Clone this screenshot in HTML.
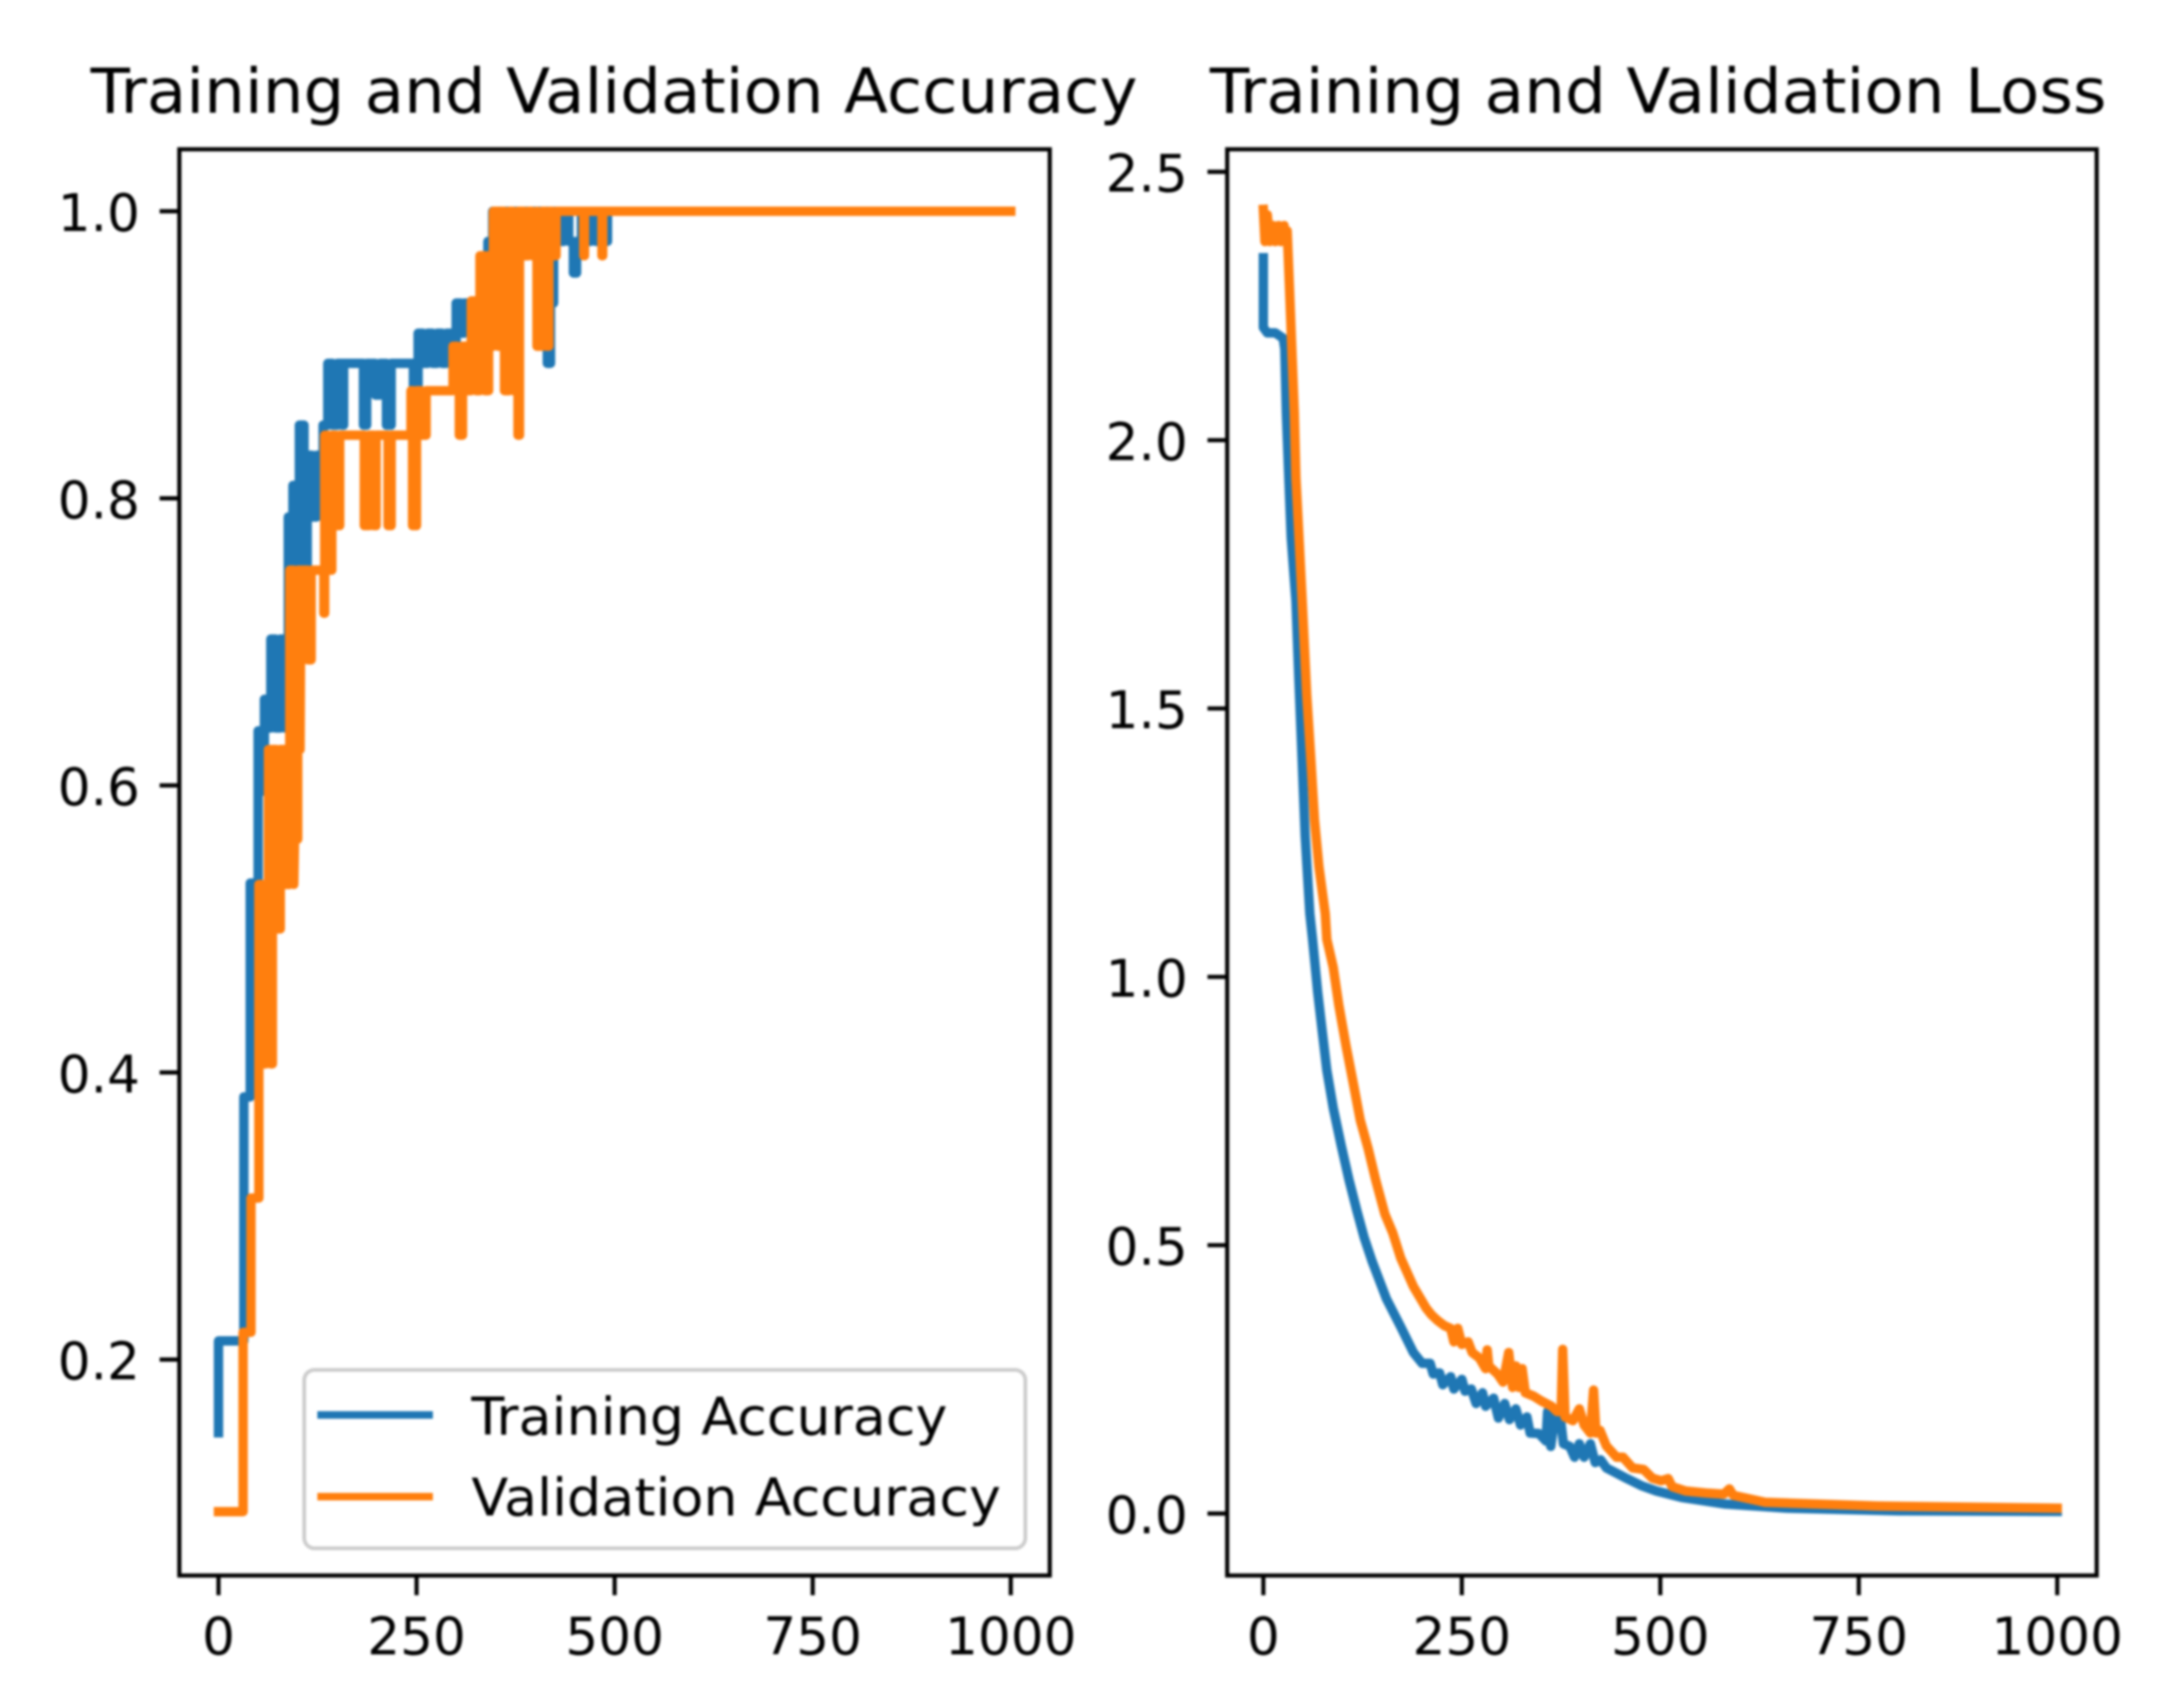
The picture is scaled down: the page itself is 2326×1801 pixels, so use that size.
<!DOCTYPE html>
<html lang="en">
<head>
<meta charset="utf-8">
<title>Training and Validation Accuracy and Loss</title>
<style>
html,body{margin:0;padding:0;background:#fff;}
body{width:2326px;height:1801px;overflow:hidden;}
svg{display:block;filter:blur(1.2px);}
text{font-family:"DejaVu Sans","Liberation Sans",sans-serif;fill:#000;}
</style>
</head>
<body>
<svg id="chart" xmlns="http://www.w3.org/2000/svg" width="2326" height="1801" viewBox="0 0 2326 1801">
  <text x="654" y="120" font-size="66" text-anchor="middle" textLength="1115" lengthAdjust="spacingAndGlyphs">Training and Validation Accuracy</text>
  <text x="1766" y="120" font-size="66" text-anchor="middle" textLength="955" lengthAdjust="spacingAndGlyphs">Training and Validation Loss</text>
  <g id="acc-marks"></g>
  <g id="loss-marks"></g>
  <g id="acc-axes"></g>
  <g id="loss-axes"></g>
  <g>
    <rect x="324" y="1459" width="768" height="190" rx="11" ry="11" fill="#fff" fill-opacity="0.8" stroke="#ccc" stroke-width="4"/>
    <line x1="338" y1="1507" x2="461" y2="1507" stroke="#1f77b4" stroke-width="8"/>
    <text x="502" y="1528" font-size="55" textLength="507" lengthAdjust="spacingAndGlyphs">Training Accuracy</text>
    <line x1="338" y1="1594" x2="461" y2="1594" stroke="#ff7f0e" stroke-width="8"/>
    <text x="502" y="1614" font-size="55" textLength="564" lengthAdjust="spacingAndGlyphs">Validation Accuracy</text>
  </g>
</svg>
<script>
const xTickValues = [0, 250, 500, 750, 1000];
const xTickLabels = ["0", "250", "500", "750", "1000"];
const accTickValues = [0.2, 0.4, 0.6, 0.8, 1.0];
const accTickLabels = ["0.2", "0.4", "0.6", "0.8", "1.0"];
const lossTickValues = [0, 0.5, 1, 1.5, 2, 2.5];
const lossTickLabels = ["0.0", "0.5", "1.0", "1.5", "2.0", "2.5"];

const trainAccEpochs = [
  0,0,30,32,32,40,40,46,50,50,
  54,54,58,58,62,62,66,66,72,72,
  78,78,84,84,88,88,92,92,94,94,
  98,98,102,102,108,108,112,112,118,118,
  124,124,128,128,132,132,138,138,144,144,
  150,150,156,156,158,158,183,183,187,187,
  198,198,204,204,212,212,218,218,246,246,
  252,252,258,258,264,264,270,270,276,276,
  282,282,288,288,294,294,300,300,306,306,
  310,310,340,340,346,346,415,415,419,419,
  423,423,430,430,436,436,442,442,448,448,
  452,452,458,458,464,464,470,470,476,476,
  482,482,488,488,491,491,1000
];
const trainAcc = [
  .149,.213,.213,.213,.383,.383,.532,.532,.532,.638,
  .638,.596,.596,.66,.66,.64,.64,.702,.702,.64,
  .64,.702,.702,.64,.64,.787,.787,.64,.64,.809,
  .809,.70,.70,.851,.851,.75,.75,.83,.83,.787,
  .787,.83,.83,.79,.79,.851,.851,.894,.894,.851,
  .851,.894,.894,.851,.851,.894,.894,.851,.851,.894,
  .894,.872,.872,.894,.894,.851,.851,.894,.894,.872,
  .872,.915,.915,.894,.894,.915,.915,.894,.894,.915,
  .915,.894,.894,.915,.915,.894,.894,.936,.936,.915,
  .915,.936,.936,.979,.979,1,1,.894,.894,.936,
  .936,1,1,.979,.979,1,1,.979,.979,.957,
  .957,.979,.979,1,1,.979,.979,1,1,.979,
  .979,1,1,.979,.979,1,1
];

const valAccEpochs = [
  0,31,31,41,41,51,51,55,55,60,
  60,63,63,66,66,68,68,73,73,78,
  78,84,84,90,90,95,95,96,100,100,
  103,103,104,113,113,117,117,133,133,134,
  134,138,138,143,143,148,148,153,153,184,
  184,190,190,196,196,199,199,214,214,218,
  218,243,243,245,245,250,250,256,256,262,
  262,264,296,296,302,302,304,304,308,308,
  314,314,319,319,325,325,330,330,336,336,
  341,341,347,347,353,353,356,356,361,361,
  367,367,372,372,378,378,380,380,386,386,
  391,391,396,396,402,402,408,408,413,413,
  417,417,422,422,426,426,461,461,462,462,
  484,484,485,485,1000
];
const valAcc = [
  .094,.094,.219,.219,.3125,.3125,.531,.531,.406,.406,
  .531,.531,.625,.625,.406,.406,.625,.625,.5,.5,
  .625,.625,.531,.531,.75,.75,.531,.5625,.5625,.75,
  .75,.625,.75,.75,.6875,.6875,.75,.75,.72,.72,
  .844,.844,.75,.75,.844,.844,.781,.781,.844,.844,
  .781,.781,.844,.844,.781,.781,.844,.844,.781,.781,
  .844,.844,.875,.875,.781,.781,.875,.875,.844,.844,
  .875,.875,.875,.906,.906,.875,.875,.844,.844,.906,
  .906,.875,.875,.9375,.9375,.875,.875,.969,.969,.875,
  .875,.969,.906,1,1,.906,.906,1,1,.875,
  .875,1,1,.875,1,.844,.844,1,1,.969,
  .969,1,1,.969,1,.906,.906,1,1,.906,
  .906,1,1,.969,.969,1,1,.969,.969,1,
  1,.969,.969,1,1
];

const trainLossEpochs = [
  0,0,5,15,25,27,29,32,35,41,
  44.7,48.7,52.6,58.5,62,68.5,74,80,88,98,
  108,118,127,137,155,173,189,200,210,214,
  222,226,236,240,250,254,262,268,276,280,
  290,296,304,310,318,324,332,336,347,356,
  358,362,368,374,378,386,392,398,404,412,
  418,425,432,445,458,476,495,527,580,659,
  800,1000
];
const trainLoss = [
  2.34,2.21,2.20,2.20,2.19,2.17,2.05,1.93,1.82,1.70,
  1.555,1.408,1.263,1.118,1.07,.971,.90,.826,.756,.686,
  .621,.563,.514,.47,.40,.348,.30,.28,.28,.26,
  .262,.24,.255,.232,.25,.228,.232,.205,.225,.20,
  .215,.178,.205,.175,.195,.165,.18,.15,.149,.135,
  .19,.125,.19,.18,.13,.125,.105,.13,.105,.13,
  .095,.10,.085,.075,.065,.052,.042,.03,.018,.01,
  .005,.004
];

const valLossEpochs = [
  0,2,5,8,12,15,19,22,26,29,
  30,33,36,39,41,45,49,54.6,59.7,64.5,
  70,78,80,88,95,104,114,122,132,141.6,
  153,163,173,189,205,212,220,228,236,240,
  245,250,258,263,272,280,282,284,295,302,
  309,314,318,322,326,330,340,350,363,370,
  375,377,380,390,398,404,412,416,419,424,
  432,445,453,465,479,490,501,510,515,532,
  560,580,587,592,632,774,1000
];
const valLoss = [
  2.43,2.37,2.42,2.37,2.40,2.37,2.40,2.37,2.40,2.37,
  2.39,2.28,2.167,2.05,1.93,1.817,1.70,1.525,1.408,1.292,
  1.205,1.118,1.07,1.018,.948,.873,.796,.733,.68,.621,
  .558,.523,.476,.423,.383,.37,.359,.35,.345,.32,
  .345,.315,.32,.30,.29,.27,.305,.275,.26,.245,
  .30,.235,.275,.235,.27,.225,.219,.21,.20,.19,
  .19,.306,.18,.173,.195,.165,.15,.23,.15,.155,
  .126,.105,.105,.085,.082,.066,.061,.065,.05,.042,
  .038,.036,.046,.034,.021,.014,.01
];

const SVG_NS = "http://www.w3.org/2000/svg";
const BLUE = "#1f77b4";
const ORANGE = "#ff7f0e";
const LINE_WIDTH = "10";

const accX = function (epoch) { return 232.7 + 0.8438 * epoch; };
const accY = function (value) { return 225 + (1 - value) * 1528.75; };
const lossX = function (epoch) { return 1345.5 + 0.8455 * epoch; };
const lossY = function (value) { return 1612 - value * 571.6; };

function make(tag, parent) {
  const el = document.createElementNS(SVG_NS, tag);
  parent.appendChild(el);
  return el;
}

function pointsFor(xs, ys, sx, sy) {
  return xs.map(function (x, i) { return sx(x).toFixed(1) + "," + sy(ys[i]).toFixed(1); }).join(" ");
}

const accMarks = document.getElementById("acc-marks");
const lossMarks = document.getElementById("loss-marks");
const accAxes = document.getElementById("acc-axes");
const lossAxes = document.getElementById("loss-axes");

const trainAccLine = make("polyline", accMarks);


trainAccLine.setAttribute("points", pointsFor(trainAccEpochs, trainAcc, accX, accY));
trainAccLine.setAttribute("fill", "none");
trainAccLine.setAttribute("stroke", BLUE);
trainAccLine.setAttribute("stroke-width", LINE_WIDTH);
trainAccLine.setAttribute("stroke-linejoin", "round");
trainAccLine.setAttribute("stroke-linecap", "square");

const valAccLine = make("polyline", accMarks);


valAccLine.setAttribute("points", pointsFor(valAccEpochs, valAcc, accX, accY));
valAccLine.setAttribute("fill", "none");
valAccLine.setAttribute("stroke", ORANGE);
valAccLine.setAttribute("stroke-width", LINE_WIDTH);
valAccLine.setAttribute("stroke-linejoin", "round");
valAccLine.setAttribute("stroke-linecap", "square");

const trainLossLine = make("polyline", lossMarks);


trainLossLine.setAttribute("points", pointsFor(trainLossEpochs, trainLoss, lossX, lossY));
trainLossLine.setAttribute("fill", "none");
trainLossLine.setAttribute("stroke", BLUE);
trainLossLine.setAttribute("stroke-width", LINE_WIDTH);
trainLossLine.setAttribute("stroke-linejoin", "round");
trainLossLine.setAttribute("stroke-linecap", "square");

const valLossLine = make("polyline", lossMarks);


valLossLine.setAttribute("points", pointsFor(valLossEpochs, valLoss, lossX, lossY));
valLossLine.setAttribute("fill", "none");
valLossLine.setAttribute("stroke", ORANGE);
valLossLine.setAttribute("stroke-width", LINE_WIDTH);
valLossLine.setAttribute("stroke-linejoin", "round");
valLossLine.setAttribute("stroke-linecap", "square");

function drawFrame(parent, left, right, top, bottom, name) {
  const frame = make("rect", parent);
  
  
  frame.setAttribute("x", left);
  frame.setAttribute("y", top);
  frame.setAttribute("width", right - left);
  frame.setAttribute("height", bottom - top);
  frame.setAttribute("fill", "none");
  frame.setAttribute("stroke", "#000");
  frame.setAttribute("stroke-width", "4.4");
}

function drawXTicks(parent, sx, bottom, prefix) {
  xTickValues.forEach(function (value, i) {
    const tick = make("line", parent);
    
    
    tick.setAttribute("x1", sx(value));
    tick.setAttribute("x2", sx(value));
    tick.setAttribute("y1", bottom);
    tick.setAttribute("y2", bottom + 21);
    tick.setAttribute("stroke", "#000");
    tick.setAttribute("stroke-width", "4.4");
    const label = make("text", parent);
    
    
    label.setAttribute("x", sx(value));
    label.setAttribute("y", 1762);
    label.setAttribute("font-size", "55");
    label.setAttribute("text-anchor", "middle");
    label.textContent = xTickLabels[i];
  });
}

function drawYTicks(parent, sy, values, labels, left, prefix) {
  values.forEach(function (value, i) {
    const tick = make("line", parent);
    
    
    tick.setAttribute("x1", left - 21);
    tick.setAttribute("x2", left);
    tick.setAttribute("y1", sy(value));
    tick.setAttribute("y2", sy(value));
    tick.setAttribute("stroke", "#000");
    tick.setAttribute("stroke-width", "4.4");
    const label = make("text", parent);
    
    
    label.setAttribute("x", left - 42);
    label.setAttribute("y", sy(value) + 21);
    label.setAttribute("font-size", "55");
    label.setAttribute("text-anchor", "end");
    label.textContent = labels[i];
  });
}

drawFrame(accAxes, 191, 1118, 159, 1678, "accuracy-axes-frame");
drawXTicks(accAxes, accX, 1678, "accuracy");
drawYTicks(accAxes, accY, accTickValues, accTickLabels, 191, "accuracy");

drawFrame(lossAxes, 1307, 2233, 159, 1678, "loss-axes-frame");
drawXTicks(lossAxes, lossX, 1678, "loss");
drawYTicks(lossAxes, lossY, lossTickValues, lossTickLabels, 1307, "loss");
</script>
</body>
</html>
